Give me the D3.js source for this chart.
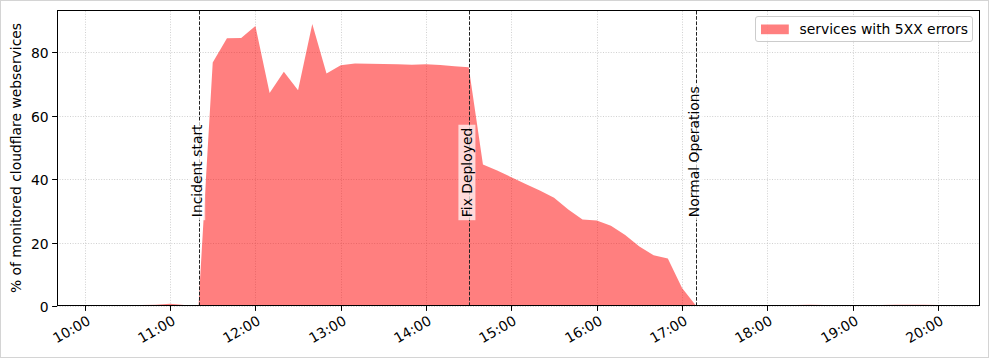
<!DOCTYPE html>
<html>
<head>
<meta charset="utf-8">
<script src="https://cdn.jsdelivr.net/npm/d3@7"></script>
<style>
  body { margin: 0; background: #fff; }
  svg { display: block; font-family: "DejaVu Sans", sans-serif; }
</style>
</head>
<body>
<div id="chart"></div>
<script>
// data, 10 minute samples
const times = [
  "10:10", "10:20", "10:30", "10:40", "10:50", "11:00", "11:10", "11:20", "11:30", "11:40",
  "11:50", "12:00", "12:10", "12:20", "12:30", "12:40", "12:50", "13:00", "13:10", "13:20",
  "13:30", "13:40", "13:50", "14:00", "14:10", "14:20", "14:30", "14:40", "14:50", "15:00",
  "15:10", "15:20", "15:30", "15:40", "15:50", "16:00", "16:10", "16:20", "16:30", "16:40",
  "16:50", "17:00", "17:10", "17:20", "17:30", "17:40", "17:50", "18:00", "18:10", "18:20",
  "18:30", "18:40", "18:50", "19:00", "19:10", "19:20", "19:30", "19:40", "19:50", "20:00"
];
const errorPct = [
  0.2, 0.3, 0.3, 0.3, 0.4, 0.7, 0.3, 0.0, 76.8, 84.4,
  84.5, 88.3, 67.2, 73.9, 68.0, 88.9, 73.3, 75.9, 76.5, 76.4,
  76.3, 76.2, 76.1, 76.2, 76.0, 75.6, 75.3, 44.6, 42.7, 40.6,
  38.5, 36.4, 34.1, 30.4, 27.3, 27.0, 25.3, 22.4, 18.8, 16.0,
  15.0, 5.7, 0.0, 0.1, 0.2, 0.2, 0.3, 0.2, 0.2, 0.3,
  0.4, 0.3, 0.3, 0.3, 0.3, 0.3, 0.4, 0.4, 0.4, 0.3
];
const xTickLabels = ["10:00", "11:00", "12:00", "13:00", "14:00", "15:00", "16:00", "17:00", "18:00", "19:00", "20:00"];
const yTickValues = [0, 20, 40, 60, 80];
const eventTimes = ["11:20", "14:30", "17:10"];
const eventLabels = ["Incident start", "Fix Deployed", "Normal Operations"];
const seriesName = "services with 5XX errors";
const yLabel = "% of monitored cloudflare webservices";

const W = 989, H = 358;
const margin = { top: 10, right: 9, bottom: 52, left: 57 };
const fs = 13.9;

const toDate = (s) => {
  const p = s.split(":");
  return new Date(2019, 6, 2, +p[0], +p[1]);
};
const data = times.map((t, i) => ({ t: toDate(t), v: errorPct[i] }));

const svg = d3.select("#chart").append("svg").attr("width", W).attr("height", H);
svg.append("rect").attr("x", 0.5).attr("y", 0.5).attr("width", W - 1).attr("height", H - 1)
  .attr("fill", "#fff").attr("stroke", "#d4d4d4");

// scales with matplotlib-like 5% padding on x
const t0 = data[0].t, t1 = data[data.length - 1].t;
const pad = (t1 - t0) * 0.05;
const x = d3.scaleTime()
  .domain([new Date(+t0 - pad), new Date(+t1 + pad)])
  .range([margin.left, W - margin.right]);
const y = d3.scaleLinear()
  .domain([0, d3.max(errorPct) * 1.05])
  .range([H - margin.bottom, margin.top]);

const x0 = margin.left, x1 = W - margin.right, y0 = H - margin.bottom, y1 = margin.top;
const crisp = (v) => Math.round(v) + 0.5;

// grid
const grid = svg.append("g");
xTickLabels.forEach((s) => {
  const xx = crisp(x(toDate(s)));
  grid.append("line").attr("x1", xx).attr("x2", xx).attr("y1", y0).attr("y2", y1)
    .attr("stroke", "#b0b0b0").attr("stroke-opacity", 0.6).attr("stroke-dasharray", "1,1.6");
});
yTickValues.forEach((v) => {
  const yy = crisp(y(v));
  grid.append("line").attr("x1", x0).attr("x2", x1).attr("y1", yy).attr("y2", yy)
    .attr("stroke", "#b0b0b0").attr("stroke-opacity", 0.6).attr("stroke-dasharray", "1,1.6");
});

// area
const area = d3.area().x((d) => x(d.t)).y0(y(0)).y1((d) => y(d.v));
svg.append("path").datum(data).attr("d", area).attr("fill", "red").attr("fill-opacity", 0.5);

// event lines
eventTimes.forEach((s) => {
  const xx = crisp(x(toDate(s)));
  svg.append("line").attr("x1", xx).attr("x2", xx).attr("y1", y0).attr("y2", y1)
    .attr("stroke", "#222").attr("stroke-width", 1).attr("stroke-dasharray", "3.7,1.6");
});

// event labels
eventTimes.forEach((s, i) => {
  const xx = x(toDate(s));
  const g = svg.append("g").attr("transform", "translate(" + (xx + 3) + "," + y(28) + ") rotate(-90)");
  const bg = g.append("rect");
  const txt = g.append("text").attr("x", 0).attr("y", 0).attr("font-size", fs).attr("fill", "#000")
    .text(eventLabels[i]);
  const len = txt.node().getComputedTextLength();
  bg.attr("x", -3).attr("y", -13.3).attr("width", len + 6).attr("height", 17)
    .attr("fill", "#fff").attr("fill-opacity", 0.7);
});

// spines
svg.append("rect").attr("x", x0 + 0.5).attr("y", y1 + 0.5).attr("width", x1 - x0 - 1).attr("height", y0 - y1 - 1)
  .attr("fill", "none").attr("stroke", "#000").attr("stroke-width", 1);

// x ticks
const xt = svg.append("g");
xTickLabels.forEach((s) => {
  const xx = crisp(x(toDate(s)));
  xt.append("line").attr("x1", xx).attr("x2", xx).attr("y1", y0).attr("y2", y0 + 4.9).attr("stroke", "#000");
  xt.append("text")
    .attr("transform", "translate(" + (xx + 0.5) + "," + (y0 + 8.4) + ") rotate(-30)")
    .attr("text-anchor", "end").attr("dy", "0.76em").attr("font-size", fs).attr("fill", "#000")
    .text(s);
});

// y ticks
const yt = svg.append("g");
yTickValues.forEach((v) => {
  const yy = crisp(y(v));
  yt.append("line").attr("x1", x0 - 4.9).attr("x2", x0).attr("y1", yy).attr("y2", yy).attr("stroke", "#000");
  yt.append("text").attr("x", x0 - 8.4).attr("y", yy).attr("dy", "0.36em")
    .attr("text-anchor", "end").attr("font-size", fs).attr("fill", "#000").text(v);
});

// y label
svg.append("text")
  .attr("transform", "translate(" + 21 + "," + ((y0 + y1) / 2) + ") rotate(-90)")
  .attr("text-anchor", "middle").attr("font-size", fs).attr("fill", "#000").text(yLabel);

// legend
const lg = svg.append("g");
lg.append("rect").attr("x", 755.5).attr("y", 16.5).attr("width", 217).attr("height", 25).attr("rx", 2.5)
  .attr("fill", "#fff").attr("fill-opacity", 0.8).attr("stroke", "#cccccc");
lg.append("rect").attr("x", 761).attr("y", 24.5).attr("width", 27.8).attr("height", 9.7)
  .attr("fill", "red").attr("fill-opacity", 0.5);
lg.append("text").attr("x", 799.5).attr("y", 34).attr("font-size", fs).attr("fill", "#000").text(seriesName);
</script>
</body>
</html>
